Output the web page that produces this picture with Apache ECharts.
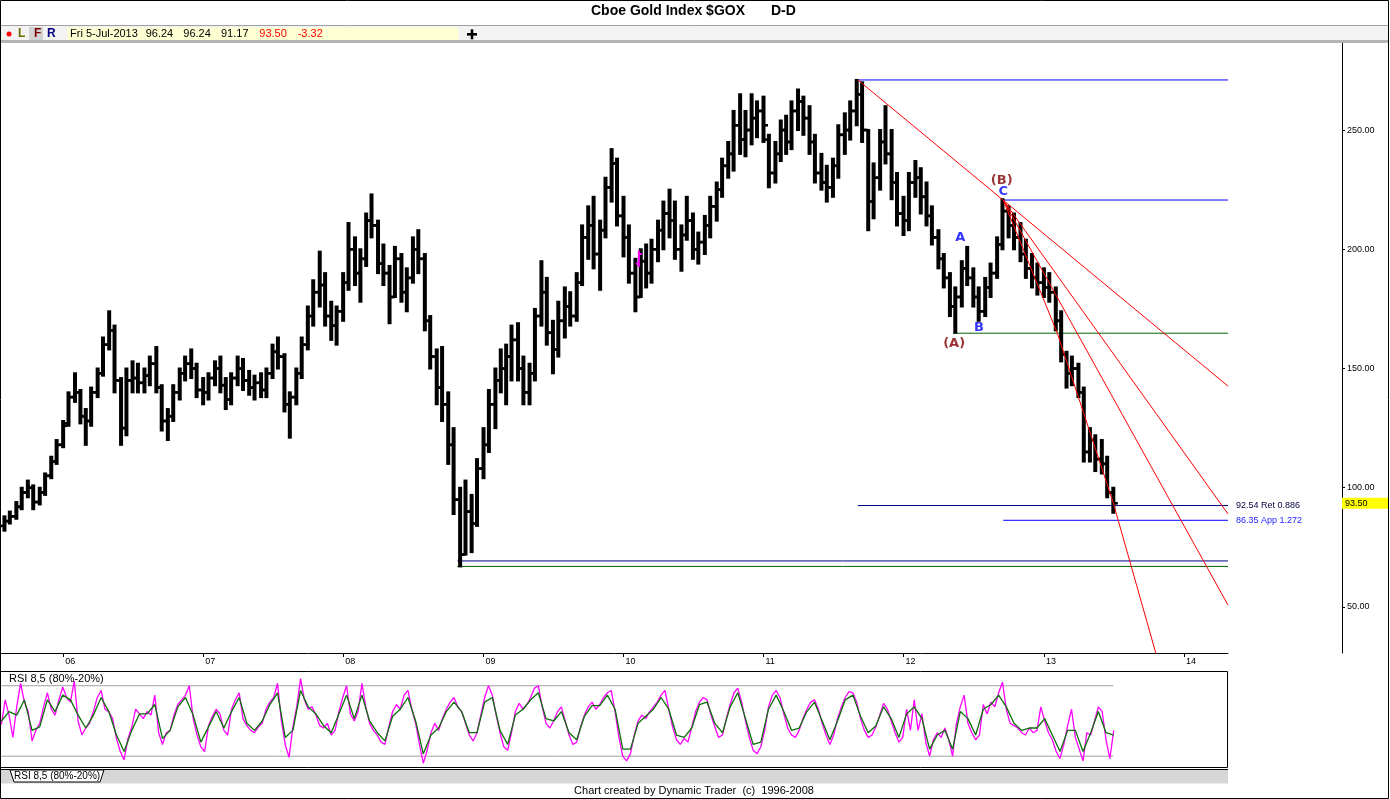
<!DOCTYPE html>
<html><head><meta charset="utf-8">
<script src="https://cdn.jsdelivr.net/npm/echarts@6/dist/echarts.min.js"></script>
<style>html,body{margin:0;padding:0;background:#fff;}#c{width:1390px;height:799px;}</style>
</head><body><div id="c"></div>
<script>
// ---------------- DATA ----------------
const dates = [
'2005-08-01','2005-08-15','2005-09-01','2005-09-15','2005-10-01','2005-10-15','2005-11-01','2005-11-15','2005-12-01','2005-12-15',
'2006-01-01','2006-01-15','2006-02-01','2006-02-15','2006-03-01','2006-03-15','2006-04-01','2006-04-15','2006-05-01','2006-05-15','2006-06-01','2006-06-15','2006-07-01','2006-07-15','2006-08-01','2006-08-15','2006-09-01','2006-09-15','2006-10-01','2006-10-15','2006-11-01','2006-11-15','2006-12-01','2006-12-15',
'2007-01-01','2007-01-15','2007-02-01','2007-02-15','2007-03-01','2007-03-15','2007-04-01','2007-04-15','2007-05-01','2007-05-15','2007-06-01','2007-06-15','2007-07-01','2007-07-15','2007-08-01','2007-08-15','2007-09-01','2007-09-15','2007-10-01','2007-10-15','2007-11-01','2007-11-15','2007-12-01','2007-12-15',
'2008-01-01','2008-01-15','2008-02-01','2008-02-15','2008-03-01','2008-03-15','2008-04-01','2008-04-15','2008-05-01','2008-05-15','2008-06-01','2008-06-15','2008-07-01','2008-07-15','2008-08-01','2008-08-15','2008-09-01','2008-09-15','2008-10-01','2008-10-15','2008-11-01','2008-11-15','2008-12-01','2008-12-15',
'2009-01-01','2009-01-15','2009-02-01','2009-02-15','2009-03-01','2009-03-15','2009-04-01','2009-04-15','2009-05-01','2009-05-15','2009-06-01','2009-06-15','2009-07-01','2009-07-15','2009-08-01','2009-08-15','2009-09-01','2009-09-15','2009-10-01','2009-10-15','2009-11-01','2009-11-15','2009-12-01','2009-12-15',
'2010-01-01','2010-01-15','2010-02-01','2010-02-15','2010-03-01','2010-03-15','2010-04-01','2010-04-15','2010-05-01','2010-05-15','2010-06-01','2010-06-15','2010-07-01','2010-07-15','2010-08-01','2010-08-15','2010-09-01','2010-09-15','2010-10-01','2010-10-15','2010-11-01','2010-11-15','2010-12-01','2010-12-15',
'2011-01-01','2011-01-15','2011-02-01','2011-02-15','2011-03-01','2011-03-15','2011-04-01','2011-04-15','2011-05-01','2011-05-15','2011-06-01','2011-06-15','2011-07-01','2011-07-15','2011-08-01','2011-08-15','2011-09-01','2011-09-15','2011-10-01','2011-10-15','2011-11-01','2011-11-15','2011-12-01','2011-12-15',
'2012-01-01','2012-01-15','2012-02-01','2012-02-15','2012-03-01','2012-03-15','2012-04-01','2012-04-15','2012-05-01','2012-05-15','2012-06-01','2012-06-15','2012-07-01','2012-07-15','2012-08-01','2012-08-15','2012-09-01','2012-09-15','2012-10-01','2012-10-15','2012-11-01','2012-11-15','2012-12-01','2012-12-15',
'2013-01-01','2013-01-15','2013-02-01','2013-02-15','2013-03-01','2013-03-15','2013-04-01','2013-04-15','2013-05-01','2013-05-15','2013-06-01','2013-06-15','2013-07-01'
];
const opens = [
84,86,88,92,98,100,94,98,105,111,
118,127,138,140,130,128,140,148,160,166,145,125,145,146,144,147,152,142,128,130,140,148,152,150,
141,140,146,150,143,137,146,150,145,142,144,141,148,157,155,135,138,148,160,172,182,185,172,168,
174,186,200,190,196,212,210,194,190,180,196,182,188,200,196,170,155,142,135,118,95,72,90,85,
108,118,135,145,150,155,162,150,140,148,172,182,165,158,170,176,172,186,205,210,198,208,226,236,
214,205,190,180,195,190,200,208,215,212,200,206,212,200,203,210,218,225,235,240,252,246,250,255,
258,246,232,240,250,245,258,262,255,245,232,228,226,235,248,250,258,265,250,220,230,245,240,228,
215,212,228,230,222,214,205,196,188,176,180,192,188,180,174,184,190,202,216,210,205,198,192,188,
186,184,182,170,156,148,150,140,115,120,112,110,98
];
const highs = [
88,90,94,100,103,101,100,106,113,120,
128,140,148,141,133,142,150,163,174,168,146,150,153,152,150,155,159,143,133,143,150,155,158,152,
146,148,153,155,146,148,155,154,149,147,148,150,160,163,156,140,150,163,176,187,199,190,178,176,
190,211,205,200,215,223,212,202,193,201,198,192,205,208,198,172,158,159,140,125,100,103,97,112,
125,141,150,158,160,168,169,155,152,175,195,188,170,178,184,182,190,210,218,222,212,230,242,238,
222,210,196,200,202,204,212,220,225,220,210,222,215,207,214,222,228,238,245,258,265,258,265,262,
264,248,245,254,256,262,267,264,260,248,240,235,238,252,257,262,271,270,250,236,250,260,250,232,
222,232,237,234,228,218,208,198,190,184,195,201,192,184,188,194,205,221,218,215,211,204,198,194,
192,190,184,174,157,155,152,142,125,122,120,113,100
];
const lows = [
82,85,87,91,96,91,93,97,104,110,
117,126,136,127,118,126,138,147,158,140,118,122,140,140,140,143,140,124,120,128,137,145,146,138,
135,137,143,140,133,135,143,141,139,137,138,138,146,150,132,121,135,146,158,168,176,168,162,160,
170,183,185,178,193,205,190,185,169,180,178,174,186,190,166,150,135,128,110,89,67,72,73,84,
104,115,125,140,135,145,145,135,135,145,168,160,148,155,163,168,170,185,196,192,183,205,220,210,
197,186,174,180,184,186,195,200,205,196,191,204,196,194,198,205,212,222,230,233,240,239,244,247,
245,226,228,237,240,242,250,248,240,228,225,220,222,230,240,246,252,245,208,213,225,236,221,210,
206,208,222,215,210,202,192,184,172,165,176,185,176,170,172,180,188,200,205,200,195,188,184,181,
180,178,166,153,142,143,138,111,111,107,106,96,89.5
];
const closes = [
86,88,92,98,100,94,98,105,111,118,
126,138,140,130,128,140,148,160,166,145,125,145,146,144,147,152,142,128,130,140,148,152,150,141,
140,146,150,143,137,146,150,145,142,144,141,148,157,155,135,138,148,160,172,182,185,172,168,174,
186,200,190,196,212,210,194,190,180,196,182,188,200,196,170,155,142,135,118,95,72,90,85,108,
118,135,145,150,155,162,150,140,148,172,182,165,158,170,176,172,186,205,210,198,208,226,236,214,
205,190,180,195,190,200,208,215,212,200,206,212,200,203,210,218,225,235,240,252,246,250,255,258,
252,232,240,250,245,258,262,255,245,232,228,226,235,248,250,258,265,250,220,230,245,240,228,215,
212,228,230,222,214,205,196,188,176,180,192,188,180,174,184,190,202,216,210,205,198,192,188,186,
184,182,170,156,148,150,140,115,120,112,110,98,93.5
];
// the single magenta-highlighted daily bar
const markBarDate = '2010-02-10';
const markBarOHLC = [194, 199, 193, 198];
const lastBarText = ['Fri 5-Jul-2013','96.24','96.24','91.17','93.50','-3.32'];
const lastClose = 93.50;

// axis ranges and tick labels
const xMin = '2005-07-23', xMax = '2014-04-26';
const yearTicks = [2006,2007,2008,2009,2010,2011,2012,2013,2014];
const priceTicks = [50,100,150,200,250];
const yMin = 30.7, yMax = 286.5;
const rsiMin = 10.8, rsiMax = 91.7;

// horizontal levels
const levelStart = ['2011-09-04','2012-09-17','2012-05-10','2011-09-04','2012-09-17','2008-10-25','2008-10-24'];
const levelValue = [271.0, 220.65, 164.8, 92.54, 86.35, 69.3, 67.0];
const levelText  = ['', '', '', '92.54 Ret 0.886', '86.35 App 1.272', '', ''];

// red fan lines
const fanDates = [
  ['2011-09-04','2014-04-26'],
  ['2012-09-17','2014-04-26'],
  ['2012-09-17','2014-04-26'],
  ['2012-09-17','2013-02-05','2013-07-01','2013-10-19','2013-11-09']
];
const fanValues = [
  [271.0, 142.6],
  [220.65, 89.0],
  [220.65, 50.8],
  [220.65, 164.8, 93.6, 31.1, 19.4]
];

// wave labels
const annotTexts  = ['(A)','(B)','A','B','C'];
const annotDates  = ['2012-05-12','2012-09-13','2012-05-28','2012-07-16','2012-09-17'];
const annotValues = [160.3, 228.6, 204.7, 167.0, 224.0];

// RSI 8,5 panel
const rsiStart = '2005-07-24';
const rsiFastStepDays = 10;
const rsiFast = [
47,68,55,36,62,82,66,58,33,42,
48,62,74,60,55,68,79,70,66,84,
50,38,44,48,58,70,76,60,58,52,
35,24,17,35,45,60,56,52,58,55,
72,40,30,40,42,55,64,68,72,80,
52,38,28,24,46,54,60,56,42,38,
60,68,74,52,46,42,40,45,48,60,
66,70,82,50,30,19,45,62,86,68,
60,62,55,46,44,48,38,42,58,70,
80,56,50,58,82,62,48,42,38,32,
30,45,58,64,60,
72,76,60,48,30,14,25,40,48,42,
52,60,66,70,62,58,48,38,33,40,
55,70,80,72,55,40,28,25,40,58,
65,60,64,70,78,80,62,48,44,50,
58,62,50,38,30,32,45,55,62,66,
60,64,70,74,76,58,36,20,16,22,
38,50,55,52,58,62,66,72,76,60,
45,34,30,35,32,45,58,66,70,68,
55,45,36,38,52,64,74,78,66,50,
36,25,22,28,42,62,72,76,70,56,
44,38,36,42,52,60,66,68,60,48,
38,30,38,52,62,70,75,74,66,52,
42,36,38,45,55,65,60,50,40,32,
36,60,42,68,42,56,32,20,34,40,
36,44,34,20,48,62,72,48,40,34,
38,64,56,66,62,74,83,60,48,46,
44,40,38,44,40,42,62,50,40,34,
24,18,30,46,60,36,26,16,40,38,
50,62,58,34,18,42
];
const rsiSlowStepDays = 20;
const rsiSlow = [
50,58,55,68,42,45,68,58,72,68,
55,44,55,70,58,38,24,42,56,56,
64,35,42,62,70,55,32,45,58,44,
58,70,48,42,50,64,74,36,42,76,
62,56,46,40,56,72,52,72,50,40,
33,54,60,
70,50,22,38,44,58,66,58,40,40,
66,70,42,30,55,60,68,74,52,50,
58,40,34,54,63,63,72,60,26,26,
48,54,60,70,60,38,36,44,64,66,
48,40,62,74,52,30,32,60,72,58,
42,44,58,66,50,34,50,68,72,54,
40,46,62,52,36,
56,62,52,26,38,42,26,58,52,38,
60,64,72,62,48,42,44,44,52,38,
24,42,42,24,40,58,40,38
];
const rsiLevels = [80, 20];

// ---------------- CHART ----------------
const FONT = '"Liberation Sans", Arial, sans-serif';
const DAY = 86400000;
function toT(s){ const p = s.split('-'); return new Date(+p[0], +p[1]-1, +p[2]).getTime(); }
const chart = echarts.init(document.getElementById('c'), null, {width:1390, height:799});

const bars = dates.map((d,i)=>[toT(d), opens[i], highs[i], lows[i], closes[i]]);
const markBar = [[toT(markBarDate)].concat(markBarOHLC)];
const yearTickTimes = yearTicks.map(y => new Date(y,0,1).getTime());
const rsiT0 = toT(rsiStart);
const X0 = toT(xMin), X1 = toT(xMax);

function makeRender(color, vw, tw, tl){
  return function(params, api){
    const x = api.value(0);
    const o = api.coord([x, api.value(1)]);
    const h = api.coord([x, api.value(2)]);
    const l = api.coord([x, api.value(3)]);
    const c = api.coord([x, api.value(4)]);
    return {type:'group', children:[
      {type:'line', shape:{x1:h[0], y1:h[1]-1, x2:l[0], y2:l[1]+1}, style:{stroke:color, lineWidth:vw}},
      {type:'line', shape:{x1:o[0]-tl, y1:o[1], x2:o[0], y2:o[1]}, style:{stroke:color, lineWidth:tw}},
      {type:'line', shape:{x1:c[0], y1:c[1], x2:c[0]+tl, y2:c[1]}, style:{stroke:color, lineWidth:tw}}
    ]};
  };
}

const levelColors = ['#0000ff','#0000ff','#006400','#000080','#0000ff','#000080','#006400'];
const levelLabelColors = ['#000','#000','#000','#000040','#2222ff','#000','#000'];

const series = [];
levelStart.forEach((d,i)=>{
  series.push({
    type:'line', xAxisIndex:0, yAxisIndex:0, silent:true, symbol:'none', z:2,
    data:[[toT(d), levelValue[i]],[X1, levelValue[i]]],
    lineStyle:{color:levelColors[i], width:1},
    endLabel: levelText[i] ? {show:true, formatter:levelText[i], color:levelLabelColors[i], fontSize:9, fontFamily:FONT, distance:8} : {show:false}
  });
});
series.push({
  type:'custom', xAxisIndex:0, yAxisIndex:0, data:bars, renderItem:makeRender('#000000', 4, 2.6, 4.5),
  encode:{x:0, y:[1,2,3,4]}, clip:true, silent:true, z:3
});
series.push({
  type:'custom', xAxisIndex:0, yAxisIndex:0, data:markBar, renderItem:makeRender('#ff00ff', 2, 2, 3),
  encode:{x:0, y:[1,2,3,4]}, clip:true, silent:true, z:5
});
fanDates.forEach((ds,k)=>{
  series.push({
    type:'line', xAxisIndex:0, yAxisIndex:0, silent:true, symbol:'none', clip:true, z:4,
    data: ds.map((d,j)=>[toT(d), fanValues[k][j]]),
    lineStyle:{color:'#ff0000', width:1}
  });
});
series.push({
  type:'scatter', xAxisIndex:0, yAxisIndex:0, silent:true, symbolSize:1, z:6,
  itemStyle:{color:'rgba(0,0,0,0)'},
  data: annotDates.map((d,i)=>({value:[toT(d), annotValues[i]], label:{color: i<2 ? '#800000' : '#0000ff'}})),
  label:{show:true, position:'inside', formatter:(p)=>annotTexts[p.dataIndex], fontFamily:'"DejaVu Sans", sans-serif', fontWeight:'bold', fontSize:13}
});
// RSI
rsiLevels.forEach(v=>{
  series.push({type:'line', xAxisIndex:1, yAxisIndex:1, silent:true, symbol:'none', z:1,
    data:[[rsiT0, v],[toT(dates[dates.length-1]), v]], lineStyle:{color:'#a0a0a0', width:1}});
});
series.push({type:'line', xAxisIndex:1, yAxisIndex:1, silent:true, symbol:'none', clip:true, z:2,
  data: rsiFast.map((v,i)=>[rsiT0 + i*rsiFastStepDays*DAY, v]), lineStyle:{color:'#ff00ff', width:1.3}});
series.push({type:'line', xAxisIndex:1, yAxisIndex:1, silent:true, symbol:'none', clip:true, z:3,
  data: rsiSlow.map((v,i)=>[rsiT0 + i*rsiSlowStepDays*DAY, v]), lineStyle:{color:'#0a700a', width:1.3}});

const option = {
  animation:false,
  backgroundColor:'#ffffff',
  textStyle:{fontFamily:FONT},
  grid:[
    {left:1, top:43, width:1227, height:610, show:false},
    {left:1, top:672, width:1227, height:95, show:false}
  ],
  xAxis:[
    {type:'value', gridIndex:0, min:X0, max:X1, scale:true,
     axisLine:{show:true, lineStyle:{color:'#000', width:1}},
     axisTick:{show:true, length:4, lineStyle:{color:'#000'}, customValues:yearTickTimes},
     axisLabel:{show:true, customValues:yearTickTimes, formatter:(v)=>String(new Date(v).getFullYear()%100).padStart(2,'0'),
       align:'left', margin:4, fontSize:9, color:'#000', fontFamily:FONT, padding:[0,0,0,2]},
     splitLine:{show:false}},
    {type:'value', gridIndex:1, min:X0, max:X1, scale:true, show:false, splitLine:{show:false}}
  ],
  yAxis:[
    {type:'value', gridIndex:0, position:'right', offset:114, min:yMin, max:yMax,
     axisLine:{show:true, lineStyle:{color:'#000'}},
     axisTick:{show:true, length:3, customValues:priceTicks, lineStyle:{color:'#000'}},
     axisLabel:{show:true, customValues:priceTicks, formatter:(v)=>Number(v).toFixed(2), margin:5, fontSize:9, color:'#000', fontFamily:FONT},
     splitLine:{show:false}},
    {type:'value', gridIndex:1, min:rsiMin, max:rsiMax, show:false, splitLine:{show:false}}
  ],
  series: series
};
chart.setOption(option);

// ------------- decoration (graphics) -------------
const py = chart.convertToPixel({yAxisIndex:0}, lastClose);
const G = [];
const txt = (x,y,s,opt,z)=>({type:'text', x:x, y:y, silent:true, z:(z||50),
  style:Object.assign({text:s, fill:'#000', font:'11px '+FONT, verticalAlign:'middle'}, opt||{})});
// title
G.push(txt(591, 11, 'Cboe Gold Index $GOX', {font:'bold 14px '+FONT}));
G.push(txt(771, 11, 'D-D', {font:'bold 14px '+FONT}));
// toolbar
G.push({type:'rect', z:40, silent:true, shape:{x:1, y:25, width:1387, height:17}, style:{fill:'#f3f3f3'}});
G.push({type:'line', z:41, silent:true, shape:{x1:1, y1:25.5, x2:1388, y2:25.5}, style:{stroke:'#a0a0a0', lineWidth:1}});
G.push({type:'rect', z:41, silent:true, shape:{x:1, y:40, width:1387, height:3}, style:{fill:'#b4b4b4'}});
G.push({type:'circle', z:45, silent:true, shape:{cx:9, cy:34, r:2.5}, style:{fill:'#ff0000'}});
G.push(txt(18, 34, 'L', {font:'bold 12px '+FONT, fill:'#6b6b00'}));
G.push({type:'rect', z:42, silent:true, shape:{x:29, y:27, width:14, height:13}, style:{fill:'#d2d2d2'}});
G.push(txt(34, 34, 'F', {font:'bold 12px '+FONT, fill:'#800000'}));
G.push(txt(47, 34, 'R', {font:'bold 12px '+FONT, fill:'#000080'}));
G.push({type:'rect', z:42, silent:true, shape:{x:67.5, y:27.5, width:391, height:12.5}, style:{fill:'#ffffd4'}});
const tbX = [70, 145.7, 183.3, 221, 259.3, 297.7];
lastBarText.forEach((s,i)=>G.push(txt(tbX[i], 34, s, {fill: i>=4 ? '#ff0000' : '#000'})));
G.push({type:'rect', z:45, silent:true, shape:{x:467, y:33, width:10, height:2.6}, style:{fill:'#000'}});
G.push({type:'rect', z:45, silent:true, shape:{x:470.7, y:29.3, width:2.6, height:10}, style:{fill:'#000'}});
// RSI panel frame and labels
G.push({type:'rect', z:30, silent:true, shape:{x:0.5, y:671.5, width:1227, height:96}, style:{fill:null, stroke:'#000', lineWidth:1}});
G.push({type:'line', z:30, silent:true, shape:{x1:0, y1:769.5, x2:1228, y2:769.5}, style:{stroke:'#000', lineWidth:1}});
G.push({type:'rect', z:29, silent:true, shape:{x:1, y:770, width:1227, height:13.5}, style:{fill:'#d6d6d6'}});
G.push({type:'polygon', z:31, silent:true, shape:{points:[[10,770],[14,782],[100,782],[104,770]]}, style:{fill:'#fff', stroke:'#000', lineWidth:1}});
G.push(txt(14, 776.5, 'RSI 8,5 (80%-20%)', {font:'10px '+FONT}));
G.push(txt(9, 679, 'RSI 8,5 (80%-20%)', {font:'11px '+FONT}));
// footer
G.push(txt(694, 790.5, 'Chart created by Dynamic Trader  (c)  1996-2008', {align:'center'}));
// last price tag
G.push({type:'rect', z:60, silent:true, shape:{x:1342, y:py-5.5, width:46, height:11}, style:{fill:'#ffff00'}});
G.push(txt(1345, py, lastClose.toFixed(2), {font:'9px '+FONT}, 70));
// outer border
G.push({type:'rect', z:100, silent:true, shape:{x:0.5, y:0.5, width:1388, height:798}, style:{fill:null, stroke:'#000', lineWidth:1}});
chart.setOption({graphic: G});
</script>
</body></html>
